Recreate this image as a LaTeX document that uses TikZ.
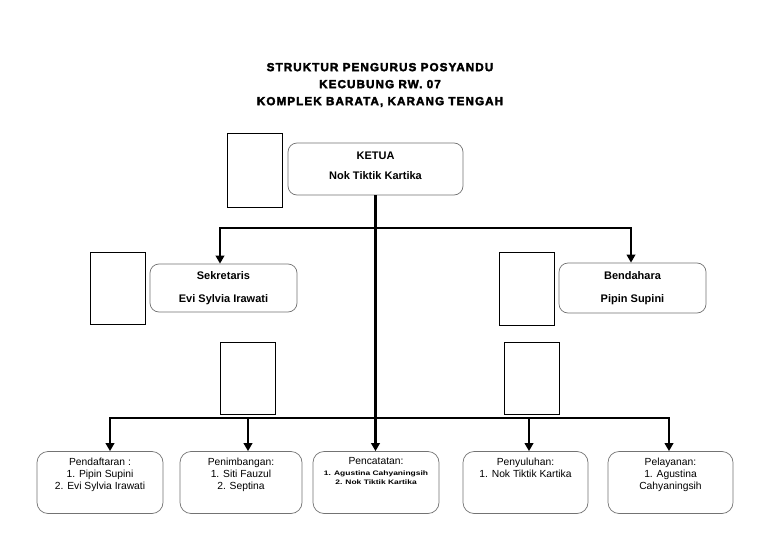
\documentclass[tikz,border=0pt]{standalone}
\usepackage{fontspec}
\setmainfont{Liberation Sans}
\newfontfamily\titlefont[LetterSpace=9,BoldFeatures={FakeBold=3}]{Liberation Sans}
\newfontfamily\widefont[FakeStretch=1.3]{Liberation Sans}
\usetikzlibrary{arrows.meta}
\tikzset{
  px/.style={x=1pt,y=-1pt,line width=.8pt},
  photo/.style={draw=black,line width=.8pt,minimum width=55pt,minimum height=73pt,inner sep=0pt},
  head/.style={draw=black!55,rounded corners=9pt,line width=.7pt,inner sep=0pt,align=center,font=\fontsize{11}{13}\selectfont\bfseries},
  unit/.style={draw=black!55,rounded corners=11pt,line width=.7pt,inner sep=0pt,minimum height=62pt},
  unittxt/.style={anchor=north,align=center,inner sep=0pt,font=\fontsize{10.3}{12}\selectfont},
  link/.style={line width=2.6pt},
  arr/.style={link,-{Triangle[length=8pt,width=8.5pt]}}
}
\newcommand{\tinyline}{\widefont\bfseries\fontsize{6.5}{9}\selectfont}

\begin{document}
\begin{tikzpicture}[px]
  \fill[white] (0,0) rectangle (768,543);
  \useasboundingbox (0,0) rectangle (768,543);
  \node[align=center,font=\titlefont\bfseries\fontsize{11.7}{17}\selectfont] (title) at (380,85)
    {STRUKTUR PENGURUS POSYANDU\\KECUBUNG RW. 07\\KOMPLEK BARATA, KARANG TENGAH};
  \node[photo,minimum height=74pt] (kphoto) at (254.5,170) {};
  \node[head,minimum width=175pt,minimum height=52pt] (ketua) at (375.5,169) {KETUA\\[7pt]Nok Tiktik Kartika\\[-7pt]};
  \node[photo,minimum height=72pt] (sphoto) at (117.5,288) {};
  \node[head,minimum width=147pt,minimum height=48pt] (sek) at (223.5,288) {Sekretaris\\[10pt]Evi Sylvia Irawati};
  \node[photo] (bphoto) at (527,288.5) {};
  \node[head,minimum width=147pt,minimum height=50pt] (ben) at (632.5,288) {Bendahara\\[10pt]Pipin Supini};
  \node[photo,minimum height=72pt] (lphoto) at (248,378) {};
  \node[photo,minimum height=72pt] (rphoto) at (532,378) {};
  \foreach \n/\x/\w in {b1/100/126,b2/241/122,b3/376/126,b4/525.5/125,b5/670.5/125}
    {\node[unit,minimum width=\w pt] (\n) at (\x,482.5) {};}
  \node[unittxt] (t1) at ([yshift=-6pt]b1.north) {Pendaftaran :\\1. Pipin Supini\\2. Evi Sylvia Irawati};
  \node[unittxt] (t2) at ([yshift=-6pt]b2.north) {Penimbangan:\\1. Siti Fauzul\\2. Septina};
  \node[unittxt] (t3) at ([yshift=-6pt]b3.north) {Pencatatan:\\[-1pt]\tinyline 1. Agustina Cahyaningsih\\[-3pt]\tinyline 2. Nok Tiktik Kartika};
  \node[unittxt] (t4) at ([yshift=-6pt]b4.north) {Penyuluhan:\\1. Nok Tiktik Kartika};
  \node[unittxt] (t5) at ([yshift=-6pt]b5.north) {Pelayanan:\\1. Agustina\\Cahyaningsih};
  \coordinate (topbar) at (375,228);
  \coordinate (lowbar) at (375,418);
  \draw[arr] (ketua.south) -- (ketua.south |- b3.north);
  \draw[arr] (topbar) -| ([xshift=-3.5pt]sek.north);
  \draw[arr] (topbar) -| ([xshift=-1.5pt]ben.north);
  \foreach \n/\d in {b1/10,b2/7,b4/3.5,b5/-1.5}
    {\draw[arr] (lowbar) -| ([xshift=\d pt]\n.north);}
\end{tikzpicture}
\end{document}
